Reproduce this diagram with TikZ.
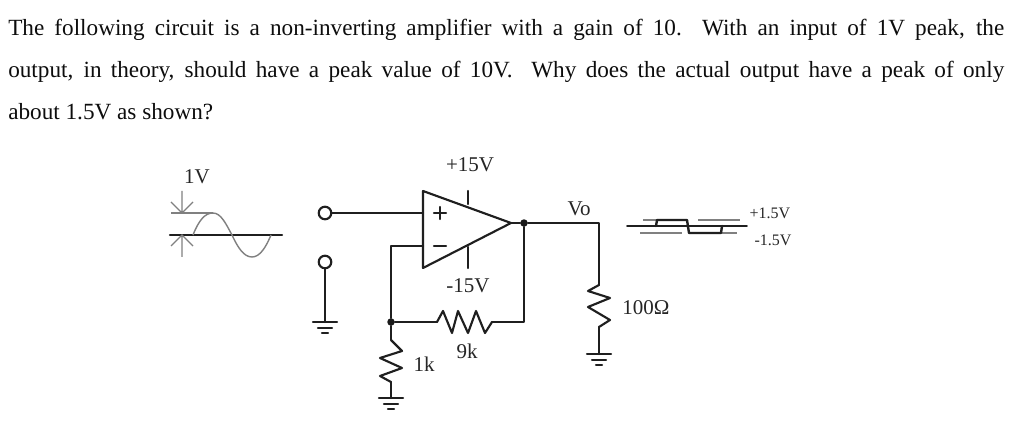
\documentclass[tikz,border=0pt]{standalone}
\usepackage{fontspec}
\setmainfont{Liberation Serif}
\tikzset{
  x=0.75pt,y=-0.75pt,
  wire/.style={line width=1.6pt,black!88,line cap=round,line join=round},
  thin gray wire/.style={line width=1.05pt,black!50},
  lab/.style={inner sep=0pt,font=\fontsize{15.75}{18}\selectfont,text=black!85},
  smalllab/.style={inner sep=0pt,font=\fontsize{12}{14}\selectfont,text=black!85},
  para/.style={inner sep=0pt,anchor=base west,font=\fontsize{17.4}{20}\selectfont,text=black!95},
  term/.style={circle,draw=black!88,line width=1.6pt,fill=white,minimum size=9.4pt,inner sep=0pt},
  junct/.style={circle,fill=black!90,minimum size=5.6pt,inner sep=0pt},
}
\newcommand{\gndsym}[1]{%
  \draw[wire] (#1)++(-12,0) -- ++(24,0);
  \draw[wire] (#1)++(-7,6) -- ++(14,0);
  \draw[wire] (#1)++(-3,11) -- ++(6,0);}
\begin{document}
\begin{tikzpicture}
\useasboundingbox (0,0) rectangle (1024,427);
\fill[white] (0,0) rectangle (1024,427);
% paragraph
\node[para] (l1) at (8,36) {\makebox[747pt][s]{The following circuit is a non-inverting amplifier with a gain of 10.\ \ With an input of 1V peak, the}};
\node[para] (l2) at (8,78) {\makebox[747pt][s]{output, in theory, should have a peak value of 10V.\ \ Why does the actual output have a peak of only}};
\node[para] (l3) at (8,120) {about 1.5V as shown?};
% named points
\coordinate (tl) at (423,191);
\coordinate (bl) at (423,268);
\coordinate (tip) at (511,223);
\coordinate (pin) at (423,213);
\coordinate (nin) at (423,246);
\coordinate (nc) at (391,246);
\coordinate (outc) at (599,223);
\coordinate (fbr) at (524,322);
\coordinate (ninek) at (437,322);
\coordinate (ninekb) at (492,322);
\coordinate (rla) at (599,285);
\coordinate (rlb) at (599,327);
\coordinate (gl) at (599,354);
\coordinate (rga) at (391,340);
\coordinate (rgb) at (391,382);
\coordinate (gg) at (391,398);
\coordinate (gi) at (325,322);
\coordinate (vpa) at (468,191);
\coordinate (vpb) at (468,204);
\coordinate (vna) at (468,268);
\coordinate (vnb) at (468,247);
% op amp
\draw[wire] (tl) -- (tip) -- (bl) -- cycle;
\draw[wire] (vpa) -- (vpb);
\draw[wire] (vnb) -- (vna);
\draw[wire] (434,213) -- (446,213);
\draw[wire] (434,246) -- (446,246);
\draw[wire] (440,207) -- (440,219);
% junctions / terminals
\node[junct] (jo) at (524,223) {};
\node[junct] (jf) at (391,322) {};
\node[term] (t1) at (325,213) {};
\node[term] (t2) at (325,262) {};
% wires
\draw[wire] (t1) -- (pin);
\draw[wire] (t2) -- (gi);
\gndsym{gi}
\draw[wire] (nin) -- (nc) -- (jf);
\draw[wire] (jf) -- (ninek);
\draw[wire] (ninek) -- (443,311) -- (452,333) -- (458,311) -- (468,333) -- (476,311) -- (485,333) -- (ninekb);
\draw[wire] (ninekb) -- (fbr) -- (jo);
\draw[wire] (tip) -- (jo) -- (outc) -- (rla);
\draw[wire] (rla) -- (588,291) -- (610,298) -- (588,307) -- (610,320) -- (rlb);
\draw[wire] (rlb) -- (gl);
\gndsym{gl}
\draw[wire] (jf) -- (rga);
\draw[wire] (rga) -- (402,351) -- (380,358) -- (402,368) -- (380,376) -- (rgb);
\draw[wire] (rgb) -- (gg);
\gndsym{gg}
% input waveform
\coordinate (axl) at (170,235);
\coordinate (axr) at (282,235);
\draw[wire] (axl) -- (axr);
\draw[thin gray wire] (171,213) -- (213,213);
\draw[thin gray wire] (193,235) .. controls (199,220) and (205,213) .. (213,213)
  .. controls (221,213) and (226,224) .. (232,235)
  .. controls (238,248) and (244,257) .. (252,257)
  .. controls (260,257) and (266,247) .. (271,235);
\draw[thin gray wire] (182,191) -- (182,213) (171,202) -- (182,213) -- (193,202);
\draw[thin gray wire] (182,257) -- (182,235) (171,246) -- (182,235) -- (193,246);
% output waveform
\draw[wire,line width=1.3pt] (627,226) -- (747,226);
\draw[thin gray wire,line width=0.8pt] (643,220) -- (657,220) (698,220) -- (740,220) (640,233) -- (682,233) (722,233) -- (737,233);
\draw[wire,line width=1.8pt] (656,226) -- (657,220) -- (687,220) -- (689,233) -- (721,233) -- (722,226);
% labels
\node[lab] (v1) at (197,177) {1V};
\node[lab] (vp) at (470,165) {+15V};
\node[lab] (vo) at (579,209) {Vo};
\node[lab] (vn) at (468,286) {-15V};
\node[lab] (l9) at (467,351) {9k};
\node[lab] (l1k) at (424,364) {1k};
\node[lab] (l100) at (646,308) {100Ω};
\node[smalllab] (hi) at (770,213) {+1.5V};
\node[smalllab] (lo) at (773,240) {-1.5V};
\end{tikzpicture}
\end{document}
